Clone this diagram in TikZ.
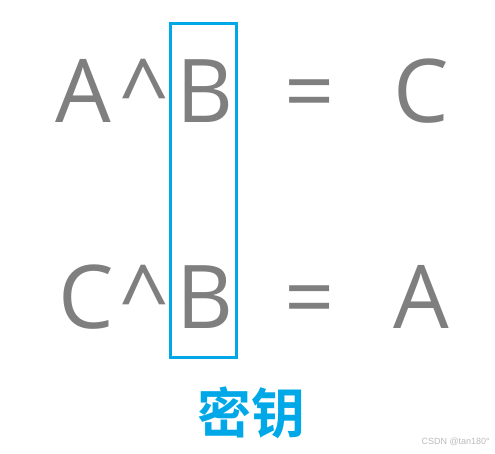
\documentclass[tikz,border=0pt]{standalone}
\usepackage{fontspec}
\setmainfont{Open Sans}
\newfontfamily\cjkfont{Noto Sans CJK SC}[BoldFont={* Bold}]
\newfontfamily\wmfont{Liberation Sans}
\definecolor{glyphgray}{HTML}{7F7F7F}
\definecolor{keyblue}{HTML}{00A8E8}
\definecolor{wmgray}{HTML}{BBBBBB}
\begin{document}
\begin{tikzpicture}[x=1pt,y=-1pt,
  sym/.style={inner sep=0pt, anchor=base, text=glyphgray, font=\fontsize{88}{88}\selectfont},
  keybox/.style={draw=keyblue, line width=3pt, inner sep=0pt, minimum width=66pt, minimum height=334pt},
  keylabel/.style={inner sep=0pt, anchor=base, text=keyblue, font=\cjkfont\bfseries\fontsize{54}{54}\selectfont},
  watermark/.style={inner sep=0pt, anchor=base east, text=wmgray, font=\wmfont\fontsize{9}{9}\selectfont}]
\useasboundingbox (0,0) rectangle (495,453);
% row 1
\node[sym] (a1) at (83.5,122) {A};
\node[sym] (x1) at (144,122) {\^{}};
\node[sym] (b1) at (205,122) {B};
\node[sym] (e1) at (310,122) {=};
\node[sym] (c1) at (421,122) {C};
% row 2
\node[sym] (c2) at (86,328) {C};
\node[sym] (x2) at (144,328) {\^{}};
\node[sym] (b2) at (205,328) {B};
\node[sym] (e2) at (310,328) {=};
\node[sym] (a2) at (421.5,328) {A};
% key box
\node[keybox] (key) at (203.5,190.5) {};
\node[keylabel] (keyname) at (251,433) {密钥};
% watermark
\node[watermark] (wm) at (490,444) {CSDN @tan180°};
\end{tikzpicture}
\end{document}
